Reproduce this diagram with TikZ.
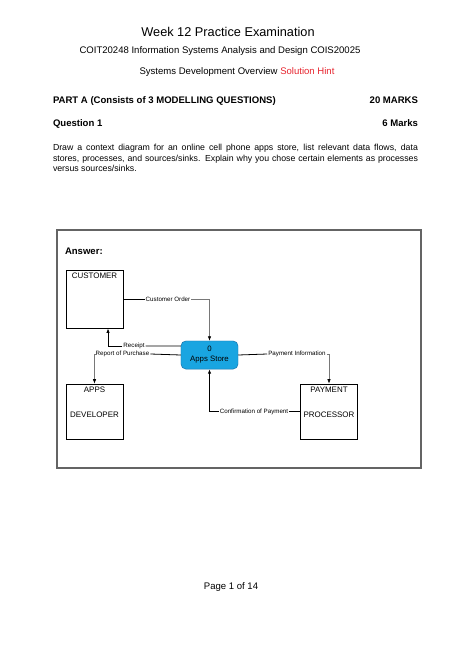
\documentclass[tikz,border=0pt]{standalone}
\usepackage{fontspec}
\setmainfont{Liberation Sans}
\usetikzlibrary{arrows.meta}
\definecolor{procblue}{RGB}{25,165,225}
\definecolor{procedge}{RGB}{25,115,170}
\definecolor{hintred}{RGB}{230,35,45}
\definecolor{flowgray}{RGB}{120,120,120}
\definecolor{framegray}{RGB}{100,100,100}
\begin{document}
\begin{tikzpicture}[x=1.256pt,y=-1.256pt,
  txt/.style={inner sep=0pt, outer sep=0pt},
  entity/.style={draw=black, line width=1.1pt, minimum width=71.6pt, inner sep=0pt},
  boxlbl/.style={inner sep=0pt, font=\fontsize{10}{12}\selectfont},
  process/.style={draw=procedge, fill=procblue, line width=0.6pt, rounded corners=6pt,
    minimum width=71.6pt, minimum height=35.2pt, align=center, inner sep=0pt,
    font=\fontsize{9.8}{12.5}\selectfont},
  flowlbl/.style={inner sep=1.2pt, font=\fontsize{7.8}{9}\selectfont},
  flowdark/.style={draw=black, line width=1pt},
  flowlight/.style={draw=flowgray, line width=0.7pt},
  tip/.style={-{Latex[length=5.5pt,width=4.2pt,black]}}
]
\useasboundingbox (0,0) rectangle (474,669);

% header
\node[txt, anchor=mid, font=\fontsize{16}{19}\selectfont] (title) at (228,34) {Week 12 Practice Examination};
\node[txt, anchor=mid, font=\fontsize{12}{14}\selectfont] (course) at (220,51) {COIT20248 Information Systems Analysis and Design COIS20025};
\node[txt, anchor=mid, font=\fontsize{12}{14}\selectfont] (topic) at (237,72) {Systems Development Overview \textcolor{hintred}{Solution Hint}};
\node[txt, anchor=mid west, font=\fontsize{12}{14}\selectfont\bfseries] (parta) at (53,101) {PART A (Consists of 3 MODELLING QUESTIONS)};
\node[txt, anchor=mid east, font=\fontsize{12}{14}\selectfont\bfseries] (marks) at (418,101) {20 MARKS};
\node[txt, anchor=mid west, font=\fontsize{12}{14}\selectfont\bfseries] (q1) at (53,124) {Question 1};
\node[txt, anchor=mid east, font=\fontsize{12}{14}\selectfont\bfseries] (q1m) at (418,124) {6 Marks};
\node[txt, anchor=mid west, font=\fontsize{11}{13}\selectfont] (p1) at (53,148.7) {\makebox[458.4pt][s]{Draw a context diagram for an online cell phone apps store, list relevant data flows, data}};
\node[txt, anchor=mid west, font=\fontsize{11}{13}\selectfont] (p2) at (53,159) {\makebox[458.4pt][s]{stores, processes, and sources/sinks. Explain why you chose certain elements as processes}};
\node[txt, anchor=mid west, font=\fontsize{11}{13}\selectfont] (p3) at (53,169.3) {versus sources/sinks.};

% answer frame
\draw[draw=framegray, line width=1.3pt] (57,230) rectangle (421,468);
\node[txt, anchor=mid west, font=\fontsize{12}{14}\selectfont\bfseries] (ans) at (65,252) {Answer:};

% entities
\node[entity, minimum height=72.8pt] (cust) at (94.5,299) {};
\node[boxlbl, anchor=mid] (custt) at (94.5,276) {CUSTOMER};
\node[entity, minimum height=69pt] (apps) at (94.5,411.5) {};
\node[boxlbl, anchor=mid] (appst) at (94.5,390) {APPS};
\node[boxlbl, anchor=mid] (devt) at (94.5,415) {DEVELOPER};
\node[entity, minimum height=69pt] (pay) at (329,411.5) {};
\node[boxlbl, anchor=mid] (payt) at (329,390) {PAYMENT};
\node[boxlbl, anchor=mid] (proct) at (329,415) {PROCESSOR};

% process
\node[process] (proc) at (209.5,355) {0\\Apps Store};

% flow labels
\node[flowlbl] (co) at (168,299) {Customer Order};
\node[flowlbl] (rc) at (134,346) {Receipt};
\node[flowlbl] (rp) at (122.5,354) {Report of Purchase};
\node[flowlbl] (pi) at (297,354) {Payment Information};
\node[flowlbl] (cp) at (254,411.5) {Confirmation of Payment};

% flows
\draw[flowdark] (cust.east) -- (co.west);
\draw[flowlight, tip] (co.east) -| (proc.north);

\draw[flowdark] ([yshift=11.3pt]proc.west) -- (rc.east);
\draw[flowdark, tip] (rc.west) -| ([xshift=17pt]cust.south);

\draw[flowdark] (proc.west) -- (rp.east);
\draw[flowlight, tip] (rp.west) -| (apps.north);

\draw[flowdark] (proc.east) -- (pi.west);
\draw[flowlight, tip] (pi.east) -| (pay.north);

\draw[flowdark] (pay.west) -- (cp.east);
\draw[flowdark, tip] (cp.west) -| (proc.south);

% footer
\node[txt, anchor=mid, font=\fontsize{12}{14}\selectfont] (page) at (231,587) {Page 1 of 14};
\end{tikzpicture}
\end{document}
